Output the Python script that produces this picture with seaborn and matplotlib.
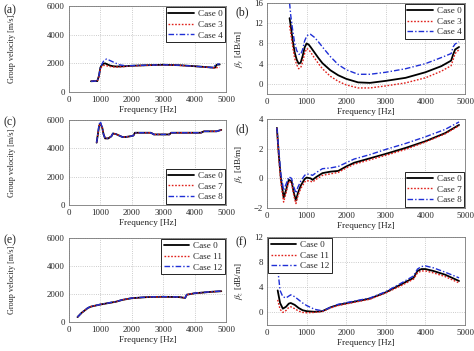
import numpy as np
import pandas as pd
import matplotlib
matplotlib.use("Agg")
import matplotlib.pyplot as plt
import seaborn as sns

# ---------------- data ----------------
freq_a = [700, 800, 900, 950, 1000, 1050, 1100, 1150, 1200, 1300, 1400, 1500, 1600, 1800,
          2000, 2500, 3000, 3500, 4000, 4300, 4600, 4650, 4700, 4800]
a_case0 = [750, 760, 760, 1100, 1700, 1900, 1970, 2000, 1950, 1850, 1800, 1780, 1780, 1800,
           1830, 1870, 1900, 1870, 1800, 1750, 1700, 1700, 1900, 1920]
a_case3 = [750, 760, 760, 1050, 1600, 1800, 1850, 1860, 1830, 1780, 1750, 1740, 1750, 1780,
           1820, 1860, 1890, 1860, 1790, 1740, 1690, 1690, 1700, 1720]
a_case4 = [750, 760, 760, 1100, 1700, 1950, 2150, 2250, 2300, 2200, 2100, 2000, 1900, 1830,
           1840, 1870, 1900, 1870, 1800, 1750, 1700, 1850, 1930, 1960]

freq_b = [570, 600, 650, 700, 750, 800, 850, 900, 950, 1000, 1050, 1100, 1200, 1300, 1400,
          1600, 1800, 2000, 2300, 2600, 3000, 3500, 4000, 4400, 4650, 4700, 4750, 4850]
b_case0 = [13.0, 11.5, 8.5, 6.2, 4.8, 4.0, 4.2, 5.5, 7.2, 8.0, 7.8, 7.3, 6.2, 5.1, 4.1,
           2.7, 1.7, 1.0, 0.3, 0.2, 0.6, 1.2, 2.3, 3.5, 4.6, 5.8, 6.8, 7.3]
b_case3 = [11.5, 10.0, 7.3, 5.0, 3.8, 3.0, 3.2, 4.3, 6.0, 7.0, 6.8, 6.3, 5.1, 4.0, 3.0,
           1.5, 0.5, -0.2, -0.8, -0.8, -0.4, 0.2, 1.2, 2.5, 3.6, 4.8, 6.0, 6.8]
b_case4 = [16.0, 13.5, 10.5, 8.0, 6.6, 5.9, 5.8, 6.8, 8.5, 9.4, 9.8, 9.8, 9.2, 8.3, 7.3,
           5.4, 3.8, 2.8, 1.9, 1.9, 2.3, 3.0, 4.0, 5.2, 6.0, 7.3, 7.9, 8.3]

freq_c = [880, 920, 960, 1000, 1030, 1060, 1100, 1150, 1250, 1350, 1400, 1500, 1550, 1650,
          1700, 1800, 1950, 2050, 2100, 2600, 2650, 2700, 3200, 3250, 4200, 4300, 4700, 4850]
c_case0 = [4400, 5000, 5600, 5750, 5600, 5450, 5000, 4700, 4700, 4850, 5050, 5000, 4950, 4850,
           4800, 4800, 4850, 4900, 5100, 5100, 5050, 4980, 4980, 5100, 5100, 5200, 5200, 5300]
c_case7 = [4400, 5000, 5600, 5750, 5600, 5450, 5000, 4700, 4700, 4850, 5050, 5000, 4950, 4850,
           4800, 4800, 4850, 4900, 5100, 5100, 5050, 4980, 4980, 5100, 5100, 5200, 5200, 5300]
c_case8 = [4400, 5050, 5700, 5900, 5650, 5450, 5000, 4700, 4700, 4850, 5050, 5000, 4950, 4850,
           4800, 4800, 4850, 4900, 5100, 5100, 5050, 4980, 4980, 5100, 5100, 5200, 5200, 5300]

freq_d = [250, 300, 350, 420, 480, 550, 620, 680, 730, 780, 850, 950, 1000, 1100, 1150, 1250,
          1400, 1600, 1800, 2000, 2200, 2600, 3000, 3500, 4000, 4500, 4850]
d_case0 = [3.4, 1.5, 0.0, -1.3, -0.8, -0.1, -0.2, -1.0, -1.5, -1.0, -0.5, -0.05, 0.05, 0.0,
           -0.1, 0.1, 0.35, 0.45, 0.5, 0.8, 1.05, 1.35, 1.65, 2.05, 2.5, 3.05, 3.6]
d_case7 = [3.4, 1.3, -0.3, -1.6, -1.0, -0.2, -0.3, -1.2, -1.7, -1.2, -0.7, -0.25, -0.15, -0.2,
           -0.25, -0.05, 0.2, 0.3, 0.4, 0.7, 0.95, 1.25, 1.55, 1.95, 2.45, 3.0, 3.55]
d_case8 = [3.4, 1.8, 0.3, -0.8, -0.4, 0.1, 0.0, -0.6, -1.0, -0.6, -0.2, 0.2, 0.3, 0.25,
           0.2, 0.4, 0.65, 0.7, 0.8, 1.05, 1.3, 1.6, 1.95, 2.35, 2.8, 3.3, 3.8]

freq_e = [270, 400, 600, 700, 1000, 1200, 1500, 1700, 2000, 2500, 3000, 3500, 3700, 3750,
          4000, 4500, 4850]
e_case0 = [350, 650, 1000, 1100, 1250, 1330, 1450, 1580, 1700, 1780, 1800, 1780, 1720, 1950,
           2050, 2150, 2200]
e_case11 = [350, 650, 1000, 1100, 1250, 1330, 1450, 1580, 1700, 1780, 1800, 1780, 1720, 1950,
            2050, 2150, 2200]
e_case12 = [350, 660, 1010, 1110, 1260, 1340, 1460, 1590, 1710, 1790, 1810, 1790, 1730, 1960,
            2060, 2160, 2210]

freq_f = [270, 330, 400, 480, 550, 600, 700, 800, 900, 1000, 1200, 1400, 1600, 1800, 2200,
          2600, 3000, 3400, 3700, 3800, 3900, 4000, 4200, 4500, 4850]
f_case0 = [3.5, 1.5, 0.6, 0.9, 1.4, 1.5, 1.2, 0.7, 0.35, 0.2, 0.1, 0.2, 0.8, 1.2, 1.7,
           2.2, 3.2, 4.5, 5.5, 6.6, 6.9, 6.9, 6.6, 6.0, 5.0]
f_case11 = [2.0, 0.5, 0.0, 0.3, 0.8, 0.9, 0.6, 0.2, 0.0, -0.05, 0.0, 0.15, 0.7, 1.1, 1.6,
            2.1, 3.1, 4.3, 5.3, 6.3, 6.6, 6.6, 6.3, 5.7, 4.7]
f_case12 = [7.0, 3.5, 2.5, 2.3, 2.6, 2.8, 2.5, 2.0, 1.5, 1.1, 0.5, 0.25, 0.8, 1.3, 1.8,
            2.3, 3.3, 4.7, 5.8, 6.9, 7.3, 7.4, 7.1, 6.4, 5.5]

panel_labels = ["(a)", "(b)", "(c)", "(d)", "(e)", "(f)"]
xticks = [0, 1000, 2000, 3000, 4000, 5000]

# ---------------- style ----------------
sns.set_theme(style="white")
plt.rcParams["font.family"] = ["Liberation Serif", "DejaVu Serif"]
plt.rcParams["mathtext.fontset"] = "stix"

W, H = 474, 351
fig = plt.figure(figsize=(W / 100, H / 100), dpi=100)


def add_ax(x0, y0, x1, y1):
    return fig.add_axes([x0 / W, 1 - y1 / H, (x1 - x0) / W, (y1 - y0) / H])


colors = ["black", "#e0201b", "#1f2fd6"]
dashes = [(None, None), (1.2, 1.2), (4, 1.5, 1, 1.5)]
widths = [1.3, 1.0, 1.0]

panels = [
    dict(rect=(69, 6, 226, 92), freq=freq_a, series=[a_case0, a_case3, a_case4],
         names=["Case 0", "Case 3", "Case 4"], ylim=(0, 6000), yticks=[0, 2000, 4000, 6000],
         ylabel="Group velocity [m/s]", loc="upper right", lab=(3, 10), ylx=-0.34),
    dict(rect=(267, 3, 465, 94), freq=freq_b, series=[b_case0, b_case3, b_case4],
         names=["Case 0", "Case 3", "Case 4"], ylim=(-2, 16), yticks=[0, 4, 8, 12, 16],
         ylabel=r"$\beta_y$ [dB/m]", loc="upper right", lab=(236, 12), ylx=-0.11),
    dict(rect=(69, 120, 226, 205), freq=freq_c, series=[c_case0, c_case7, c_case8],
         names=["Case 0", "Case 7", "Case 8"], ylim=(0, 6000), yticks=[0, 2000, 4000, 6000],
         ylabel="Group velocity [m/s]", loc="lower right", lab=(3, 122), ylx=-0.34),
    dict(rect=(267, 119, 465, 208), freq=freq_d, series=[d_case0, d_case7, d_case8],
         names=["Case 0", "Case 7", "Case 8"], ylim=(-2, 4), yticks=[-2, 0, 2, 4],
         ylabel=r"$\beta_x$ [dB/m]", loc="lower right", lab=(236, 129), ylx=-0.11),
    dict(rect=(69, 238, 226, 322), freq=freq_e, series=[e_case0, e_case11, e_case12],
         names=["Case 0", "Case 11", "Case 12"], ylim=(0, 6000), yticks=[0, 2000, 4000, 6000],
         ylabel="Group velocity [m/s]", loc="upper right", lab=(3, 240), ylx=-0.34),
    dict(rect=(267, 237, 465, 325), freq=freq_f, series=[f_case0, f_case11, f_case12],
         names=["Case 0", "Case 11", "Case 12"], ylim=(-2, 12), yticks=[0, 4, 8, 12],
         ylabel=r"$\beta_z$ [dB/m]", loc="upper left", lab=(236, 242), ylx=-0.11),
]

for i, p in enumerate(panels):
    ax = add_ax(*p["rect"])
    frames = []
    for name, vals in zip(p["names"], p["series"]):
        frames.append(pd.DataFrame({"Frequency": p["freq"], "value": vals, "case": name}))
    df = pd.concat(frames, ignore_index=True)
    sns.lineplot(data=df, x="Frequency", y="value", hue="case", style="case",
                 palette=colors, dashes=dashes, size="case", sizes=widths,
                 sort=False, estimator=None, ax=ax, legend=False)
    ax.set_xlim(0, 5000)
    ax.set_ylim(*p["ylim"])
    ax.set_xticks(xticks)
    ax.set_yticks(p["yticks"])
    ax.grid(True, color="#bbbbbb", linestyle=":", linewidth=0.6)
    for s in ax.spines.values():
        s.set_color("#777777")
        s.set_linewidth(0.6)
    ax.tick_params(axis="both", labelsize=6.3, length=1.5, width=0.5, direction="in",
                   colors="#333333", pad=3, labelcolor="#222222")
    ax.set_xlabel("Frequency [Hz]", fontsize=6.6, labelpad=1.5, color="#222222")
    ax.set_ylabel(p["ylabel"], fontsize=5.9 if i % 2 == 0 else 6.6, color="#222222")
    ax.yaxis.set_label_coords(p["ylx"], 0.5)
    handles = [plt.Line2D([], [], color=c, lw=w, linestyle=(0, d) if d[0] else "-")
               for c, w, d in zip(colors, widths, dashes)]
    leg = ax.legend(handles, p["names"], loc=p["loc"], fontsize=6.6, frameon=True,
                    fancybox=False, edgecolor="black", framealpha=1, borderpad=0.3,
                    handlelength=2.8, handletextpad=0.4, labelspacing=0.25,
                    borderaxespad=0.1)
    leg.get_frame().set_linewidth(0.6)
    fig.text(p["lab"][0] / W, 1 - p["lab"][1] / H, panel_labels[i], fontsize=8.5,
             ha="left", va="center", color="#222222")

fig.savefig("out.png", dpi=100)
